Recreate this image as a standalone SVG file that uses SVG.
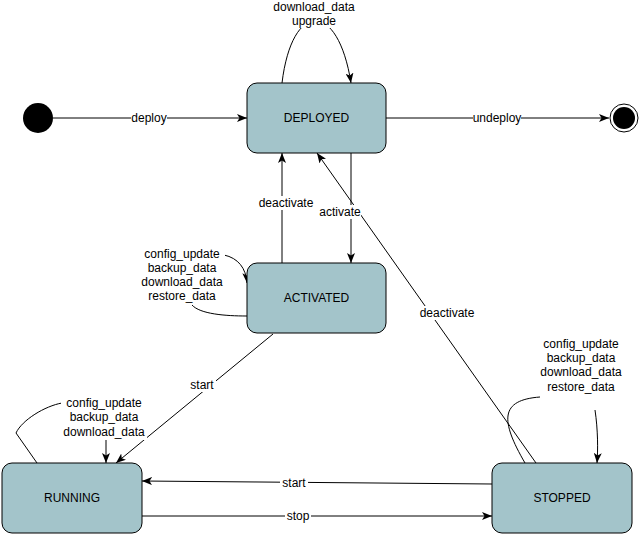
<svg xmlns="http://www.w3.org/2000/svg" width="643" height="536" viewBox="0 0 643 536">
<defs>
<style>
.node rect{fill:#a3c4ca;stroke:#000;stroke-width:1}
text{font-family:"Liberation Sans",Arial,sans-serif;font-size:12px;fill:#000;text-anchor:middle}
.edge{fill:none;stroke:#000;stroke-width:1}
.lbg{fill:#fff}
</style>
<marker id="arr" viewBox="0 0 10 8" refX="10" refY="4" markerWidth="10" markerHeight="8" markerUnits="userSpaceOnUse" orient="auto">
<path d="M0,0 L10,4 L0,8 L2.5,4 Z" fill="#000"/>
</marker>
</defs>
<rect width="643" height="536" fill="#fff"/>

<g id="connectors">
<path class="edge" d="M53,118 L247,118" marker-end="url(#arr)"/>
<path class="edge" d="M386,118 L609,118" marker-end="url(#arr)"/>
<path class="edge" d="M282,83 C292,0 338,0 351,83" marker-end="url(#arr)"/>
<path class="edge" d="M351,153 L351,263" marker-end="url(#arr)"/>
<path class="edge" d="M282,263 L282,153" marker-end="url(#arr)"/>
<path class="edge" d="M536,463 L317,153" marker-end="url(#arr)"/>
<path class="edge" d="M273,334 L116,463" marker-end="url(#arr)"/>
<path class="edge" d="M492,484 L142,481" marker-end="url(#arr)"/>
<path class="edge" d="M142,516 L492,516" marker-end="url(#arr)"/>
<path class="edge" d="M247,316 C225,316 200,314 192,305 M224,255 C238,258 246,268 247,283" marker-end="url(#arr)"/>
<path class="edge" d="M37,463 L16,433 C22,420 45,406 62,403 M106,440 L106,463" marker-end="url(#arr)"/>
<path class="edge" d="M525,463 C500,420 500,400 540,397 M595,410 C598,430 598,450 597,463" marker-end="url(#arr)"/>

<rect class="lbg" x="131" y="111" width="36" height="14"/>
<text x="149" y="122">deploy</text>
<rect class="lbg" x="473" y="111" width="48" height="14"/>
<text x="497" y="122">undeploy</text>
<rect class="lbg" x="271" y="0" width="86" height="28"/>
<text x="314" y="11">download_data</text>
<text x="314" y="25">upgrade</text>
<rect class="lbg" x="319" y="205" width="42" height="14"/>
<text x="340" y="216">activate</text>
<rect class="lbg" x="259" y="196" width="55" height="14"/>
<text x="286" y="207">deactivate</text>
<rect class="lbg" x="420" y="306" width="55" height="14"/>
<text x="447" y="317">deactivate</text>
<rect class="lbg" x="188" y="378" width="28" height="14"/>
<text x="202" y="389">start</text>
<rect class="lbg" x="280" y="476" width="28" height="14"/>
<text x="294" y="487">start</text>
<rect class="lbg" x="285" y="509" width="26" height="14"/>
<text x="298" y="520">stop</text>
<rect class="lbg" x="139" y="246" width="86" height="58"/>
<text x="182" y="258">config_update</text>
<text x="182" y="272">backup_data</text>
<text x="182" y="286">download_data</text>
<text x="182" y="300">restore_data</text>
<rect class="lbg" x="61" y="396" width="86" height="44"/>
<text x="104" y="407">config_update</text>
<text x="104" y="421">backup_data</text>
<text x="104" y="436">download_data</text>
<rect class="lbg" x="538" y="337" width="86" height="58"/>
<text x="581" y="348">config_update</text>
<text x="581" y="362">backup_data</text>
<text x="581" y="376">download_data</text>
<text x="581" y="391">restore_data</text>
</g>

<g id="initial">
<circle cx="38" cy="118" r="15" fill="#000"/>
</g>
<g id="final">
<circle cx="624" cy="118" r="14" fill="#fff" stroke="#000" stroke-width="1"/>
<circle cx="624" cy="118" r="11" fill="#000"/>
</g>
<g id="deployed" class="node">
<rect x="247" y="83" width="139" height="70" rx="10"/>
<text x="316.5" y="122">DEPLOYED</text>
</g>
<g id="activated" class="node">
<rect x="247" y="263" width="139" height="70" rx="10"/>
<text x="316.5" y="302">ACTIVATED</text>
</g>
<g id="running" class="node">
<rect x="2" y="463" width="140" height="70" rx="10"/>
<text x="72" y="502">RUNNING</text>
</g>
<g id="stopped" class="node">
<rect x="492" y="463" width="140" height="70" rx="10"/>
<text x="562" y="502">STOPPED</text>
</g>
</svg>
